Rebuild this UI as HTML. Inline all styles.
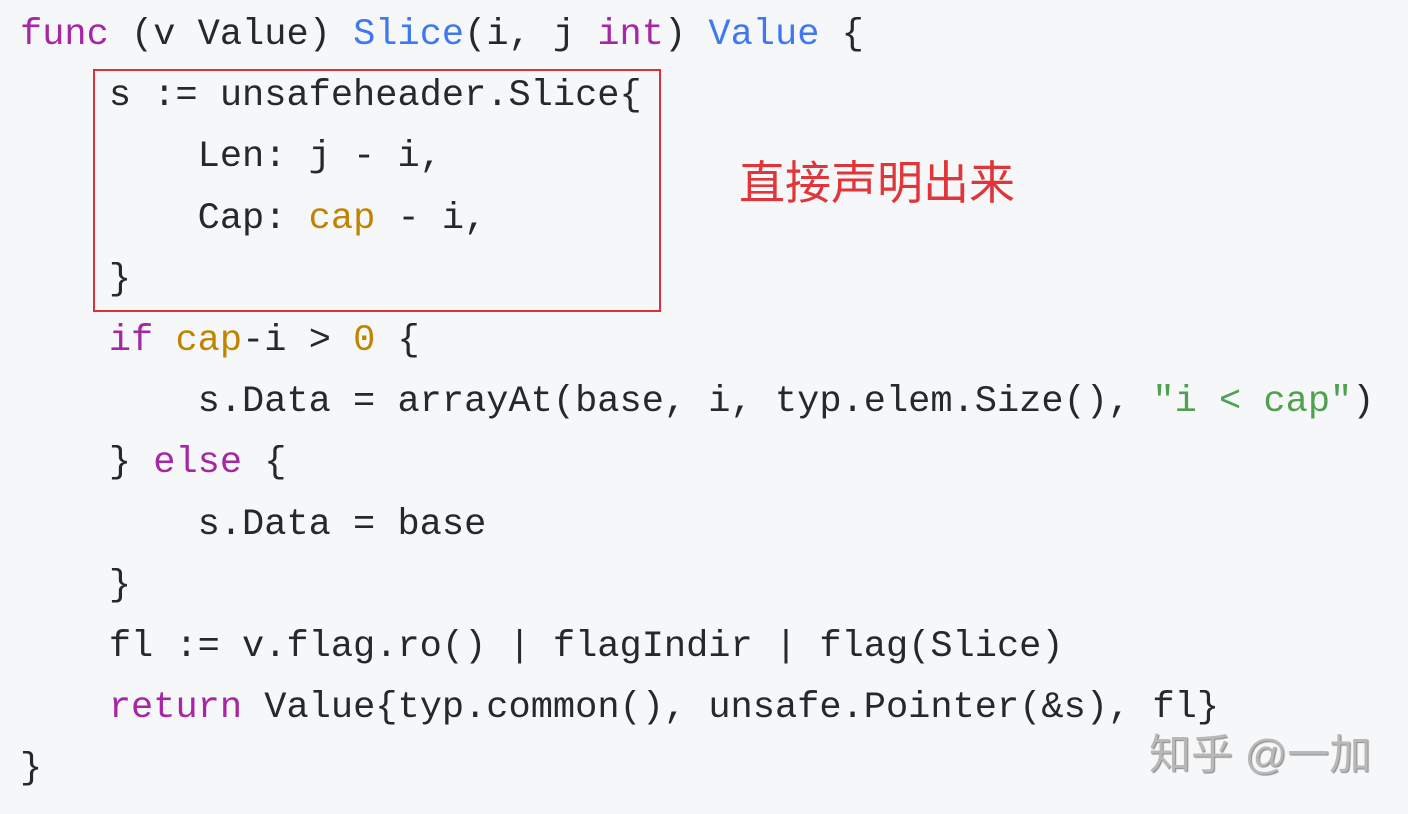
<!DOCTYPE html>
<html><head><meta charset="utf-8"><style>
body{margin:0;width:1408px;height:814px;background:#f6f7f9;overflow:hidden;position:relative}
pre{position:absolute;left:20px;top:5px;margin:0;font-family:"Liberation Mono",monospace;font-size:37px;line-height:61.2px;color:#24292e}
.k{color:#a626a4}.b{color:#4078f2}.o{color:#c18401}.g{color:#50a14f}
.box{position:absolute;left:93px;top:69px;width:564px;height:239px;border:2px solid #d9303a}
.lbl{position:absolute;left:739px;top:150px;font-family:"Noto Sans CJK SC",sans-serif;font-size:46px;color:#e0363a;line-height:60px}
.wm{position:absolute;left:1149px;top:726px;font-family:"Liberation Sans","Noto Sans CJK SC",sans-serif;font-size:42px;color:#b8b8b8;line-height:58px;text-shadow:1px 1px 1px #888}
</style></head><body>
<pre><span class="k">func</span> (v Value) <span class="b">Slice</span>(i, j <span class="k">int</span>) <span class="b">Value</span> {
    s := unsafeheader.Slice{
        Len: j - i,
        Cap: <span class="o">cap</span> - i,
    }
    <span class="k">if</span> <span class="o">cap</span>-i &gt; <span class="o">0</span> {
        s.Data = arrayAt(base, i, typ.elem.Size(), <span class="g">"i &lt; cap"</span>)
    } <span class="k">else</span> {
        s.Data = base
    }
    fl := v.flag.ro() | flagIndir | flag(Slice)
    <span class="k">return</span> Value{typ.common(), unsafe.Pointer(&amp;s), fl}
}</pre>
<div class="box"></div>
<div class="lbl">直接声明出来</div>
<div class="wm">知乎 @一加</div>
</body></html>
